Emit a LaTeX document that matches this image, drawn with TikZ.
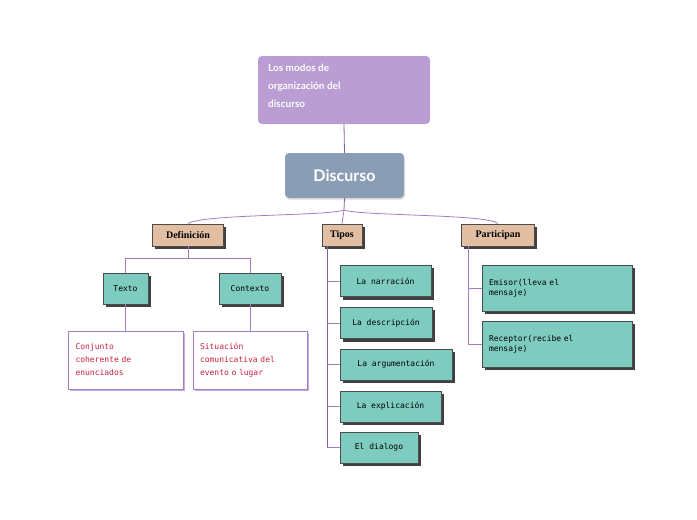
\documentclass[tikz,border=0pt]{standalone}
\usepackage{fontspec}
\setmainfont{Lato}
\newfontfamily\monof{DejaVu Sans Mono}
\newfontfamily\serf{Liberation Serif}
\definecolor{lnk}{HTML}{A27CC4}
\definecolor{tanc}{HTML}{E2BFA2}
\definecolor{tealc}{HTML}{7ECCC0}
\definecolor{redc}{HTML}{C8203E}
\definecolor{rootc}{HTML}{8A9DB5}
\begin{document}
\begin{tikzpicture}[x=1pt,y=-1pt,
  lk/.style={draw=lnk,line width=0.8pt},
  tan/.style={draw=black!70,fill=tanc,line width=0.6pt,font=\serf\bfseries\fontsize{10}{12}\selectfont,inner sep=0pt,minimum height=22pt},
  teal/.style={draw=black!70,fill=tealc,line width=0.6pt,font=\monof\fontsize{8}{10}\selectfont,inner sep=0pt,minimum height=31pt},
  wbox/.style={draw=lnk,fill=white,line width=0.8pt,font=\monof\fontsize{8}{13}\selectfont,text=redc,inner sep=0pt,minimum height=58pt,align=left,text width=100pt}]
\useasboundingbox (0,0) rectangle (697,520);
% top and root
\node[fill=lnk!75!white,rounded corners=4pt,minimum width=172pt,minimum height=68pt,inner sep=0pt] (top) at (344,90) {};
\node[anchor=north west,text=white,font=\bfseries\fontsize{10}{18}\selectfont,align=left,inner sep=0pt] (toptxt) at (268,64) {Los modos de\\organización del\\discurso};
\node[fill=black!10,rounded corners=4pt,minimum width=119pt,minimum height=45pt] (sh0) at (345.5,177.5) {};
\node[fill=rootc,rounded corners=4pt,minimum width=119pt,minimum height=45pt,text=white,font=\bfseries\fontsize{16}{18}\selectfont] (root) at (344.5,175.5) {Discurso};
% shadows
\foreach \x/\y/\w/\h in {188/235/71/22, 342/235/40/22, 498/235/73/22,
   125.5/288.5/45/31, 250/288.5/62/31,
   385.5/281/91/32, 386/323/92/32, 396/364.5/112/31, 390.5/406.5/101/31, 379/447.5/78/31,
   557/288/150/46, 557/344/150/46}
  \fill[black!75] (\x-\w/2+2.5,\y-\h/2+2.5) rectangle (\x+\w/2+2.5,\y+\h/2+2.5);
\foreach \x/\y/\w/\h in {125.5/360/115/58, 250/360/114/58}
  \fill[lnk!60] (\x-\w/2+2,\y-\h/2+2) rectangle (\x+\w/2+2,\y+\h/2+2);
\node[tan,minimum width=71pt] (def) at (188,235) {Definición};
\node[tan,minimum width=40pt] (tip) at (342,235) {Tipos};
\node[tan,minimum width=73pt] (par) at (498,235) {Participan};
\node[teal,minimum width=45pt] (tex) at (125.5,288.5) {Texto};
\node[teal,minimum width=62pt] (con) at (250,288.5) {Contexto};
\node[wbox,minimum width=115pt,text width=100pt] (conj) at (125.5,360) {Conjunto\\coherente de\\enunciados};
\node[wbox,minimum width=114pt,text width=100pt] (sit) at (250,360) {Situación\\comunicativa del\\evento o lugar};
\node[teal,minimum width=91pt] (t1) at (385.5,281) {La narración};
\node[teal,minimum width=92pt] (t2) at (386,323) {La descripción};
\node[teal,minimum width=112pt] (t3) at (396,364.5) {La argumentación};
\node[teal,minimum width=101pt] (t4) at (390.5,406.5) {La explicación};
\node[teal,minimum width=78pt] (t5) at (379,447.5) {El dialogo};
\node[teal,minimum width=150pt,minimum height=46pt,align=left,text width=136pt] (p1) at (557,288) {Emisor(lleva el\\mensaje)};
\node[teal,minimum width=150pt,minimum height=46pt,align=left,text width=136pt] (p2) at (557,344) {Receptor(recibe el\\mensaje)};
% connectors
\draw[lk,draw=lnk!80!black] (top.south) -- (root.north);
\coordinate (hub) at (344,210);
\draw[lk,draw=lnk!80!black] (root.south) -- (hub);
\draw[lk] (hub) .. controls (330,216) and (200,214) .. (def.north);
\draw[lk] (hub) -- (tip.north);
\draw[lk] (hub) .. controls (360,216) and (490,214) .. (par.north);
\draw[lk] (def.south) -- ++(0,12) -| (tex.north);
\draw[lk] (def.south) -- ++(0,12) -| (con.north);
\draw[lk] (tex.south) -- (conj.north);
\draw[lk] (con.south) -- (sit.north);
\coordinate (tb) at (327,246);
\coordinate (pb) at (468,246);
\draw[lk,draw=lnk!80!black] (tb) -- (tb |- t5.west);
\foreach \n in {t1,t2,t3,t4,t5} \draw[lk] (tb |- \n.west) -- (\n.west);
\draw[lk] (pb) -- (pb |- p2.west);
\foreach \n in {p1,p2} \draw[lk] (pb |- \n.west) -- (\n.west);
\end{tikzpicture}
\end{document}
